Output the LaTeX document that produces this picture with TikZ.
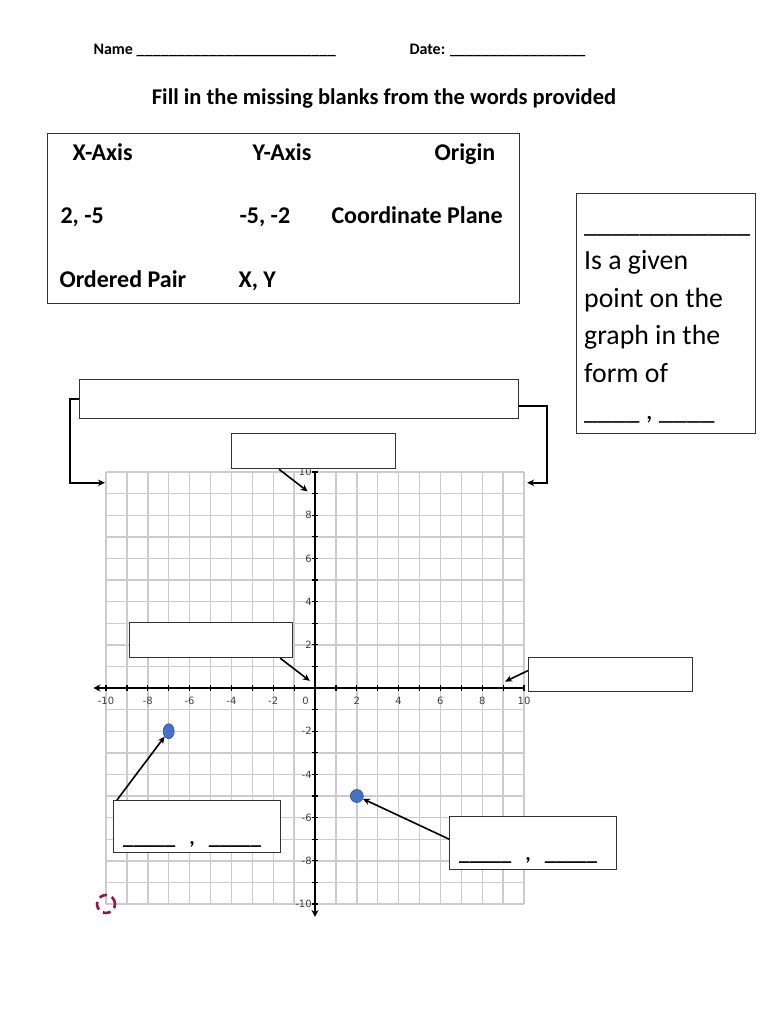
\documentclass[tikz,border=0pt]{standalone}
\usepackage{fontspec}
\setmainfont{Carlito}
\newfontfamily\axisfont{DejaVu Sans}
\usetikzlibrary{positioning,arrows.meta,shapes.geometric}
\definecolor{dotblue}{HTML}{4472C4}
\definecolor{dotedge}{HTML}{2F528F}
\definecolor{marker}{HTML}{8B1F41}

\begin{document}
\begin{tikzpicture}[
  x=1pt, y=-1pt,
  head/.style = {anchor=base west, font=\fontsize{16}{19}\selectfont\bfseries},
  word/.style = {anchor=base west, font=\fontsize{24}{28}\selectfont\bfseries},
  blank/.style = {
    rectangle, draw=black!80, line width=1.2pt, fill=white,
    anchor=north west, inner sep=0pt,
  },
  blanktext/.style = {anchor=base, font=\fontsize{21}{25}\selectfont\bfseries},
  pointer/.style = {-{Stealth[length=7pt,width=6.5pt]}, line width=1.6pt},
  gridline/.style = {draw=black!20, line width=1.4pt},
  axis/.style = {line width=1.8pt},
  ticklabel/.style = {font=\axisfont\fontsize{10}{12}\selectfont, text=black!75, inner sep=1pt},
  dot/.style = {ellipse, fill=dotblue, draw=dotedge, line width=0.6pt, inner sep=0pt},
]
  \fill[white] (0,0) rectangle (768,1024);
  \useasboundingbox (0,0) rectangle (768,1024);

  \node[head] (name) at (90,55) {Name \_\_\_\_\_\_\_\_\_\_\_\_\_\_\_\_\_\_\_\_\_\_\_\_\_};
  \node[head] (date) at (406,55) {Date: \_\_\_\_\_\_\_\_\_\_\_\_\_\_\_\_\_};
  \node[anchor=base, font=\fontsize{22.5}{27}\selectfont\bfseries] (title) at (384,105)
    {Fill in the missing blanks from the words provided};

  \node[blank, minimum width=472pt, minimum height=170pt] (words) at (47,133) {};
  \node[word] (w1) at (69,161)  {X-Axis};
  \node[word] (w2) at (249,161) {Y-Axis};
  \node[word] (w3) at (431,161) {Origin};
  \node[word] (w4) at (57,224)  {2, -5};
  \node[word] (w5) at (236,224) {-5, -2};
  \node[word] (w6) at (328,224) {Coordinate Plane};
  \node[word] (w7) at (56,287)  {Ordered Pair};
  \node[word] (w8) at (235,287) {X, Y};

  \node[blank, minimum width=179pt, minimum height=240pt] (define) at (576,193) {};
  \node[anchor=north west, align=left, inner sep=0pt,
        font=\fontsize{27.8}{37.5}\selectfont] (defn) at (584,232)
    {\_\_\_\_\_\_\_\_\_\_\_\_\\Is a given\\point on the\\graph in the\\form of\\\_\_\_\_ , \_\_\_\_};

  % grid
  \begin{scope}[shift={(315,688)}, x=20.9pt, y=21.6pt]
    \foreach \i in {-10,...,10} {
      \draw[gridline] (\i,-10) -- (\i,10);
      \draw[gridline] (-10,\i) -- (10,\i);
    }
    \draw[axis, -{Stealth[length=7pt,width=7pt]}] (10,0) -- (-10.6,0);
    \draw[axis, -{Stealth[length=7pt,width=7pt]}] (0,10) -- (0,-10.6);
    \foreach \i in {-10,...,10} {
      \draw[line width=1.2pt] (\i,0.13) -- (\i,-0.13);
      \draw[line width=1.2pt] (0.13,\i) -- (-0.13,\i);
    }
    \foreach \x in {-10,-8,...,-2,2,4,...,10}
      \node[ticklabel] (xl\x) at (\x,-0.6) {\x};
    \node[ticklabel] (xl0) at (-0.45,-0.6) {0};
    \foreach \y in {-10,-8,...,-2,2,4,...,10}
      \node[ticklabel, anchor=east] (yl\y) at (-0.1,\y) {\y};
    \node[dot, minimum width=11pt, minimum height=15pt] (dotA) at (-7,-2) {};
    \node[dot, minimum width=13pt, minimum height=13pt] (dotB) at (2,-5) {};
    \coordinate (gridL) at (-10.05,9.5);
    \coordinate (gridR) at (10.15,9.5);
    \coordinate (yTip) at (-0.35,9.1);
    \coordinate (oTip) at (-0.25,0.33);
    \coordinate (xTip) at (9.1,0.3);
  \end{scope}

  \node[blank, minimum width=439pt, minimum height=39pt] (axisname) at (79,379) {};
  \node[blank, minimum width=164pt, minimum height=35pt] (ybox) at (231,433) {};
  \node[blank, minimum width=163pt, minimum height=35pt] (obox) at (129,622) {};
  \node[blank, minimum width=164pt, minimum height=34pt] (xbox) at (528,657) {};
  \node[blank, minimum width=167pt, minimum height=52pt] (ptA) at (113,800) {};
  \node[blank, minimum width=167pt, minimum height=53pt] (ptB) at (449,816) {};
  \node[blanktext] (ptAtext) at ([xshift=-5pt,yshift=9pt]ptA.south) {\_\_\_\_\_\hspace*{14pt},\hspace*{14pt}\_\_\_\_\_};
  \node[blanktext] (ptBtext) at ([xshift=-5pt,yshift=10pt]ptB.south) {\_\_\_\_\_\hspace*{14pt},\hspace*{14pt}\_\_\_\_\_};

  \draw[pointer] (axisname.west) -- ++(-9,0) |- (gridL);
  \draw[pointer] ([yshift=-7pt]axisname.east) -- ++(28,0) |- (gridR);
  \draw[pointer] ([xshift=48pt]ybox.south west) -- (yTip);
  \draw[pointer] ([xshift=-13pt]obox.south east) -- (oTip);
  \draw[pointer] ([yshift=4pt]xbox.west) -- (xTip);
  \draw[pointer] ([xshift=4pt]ptA.north west) -- (dotA);
  \draw[pointer] ([yshift=4pt]ptB.west) -- (dotB);

  \node[circle, draw=marker, line width=2.6pt, minimum size=18pt, inner sep=0pt,
        dash pattern=on 8pt off 5pt] (mark) at (106,904) {};
\end{tikzpicture}
\end{document}
